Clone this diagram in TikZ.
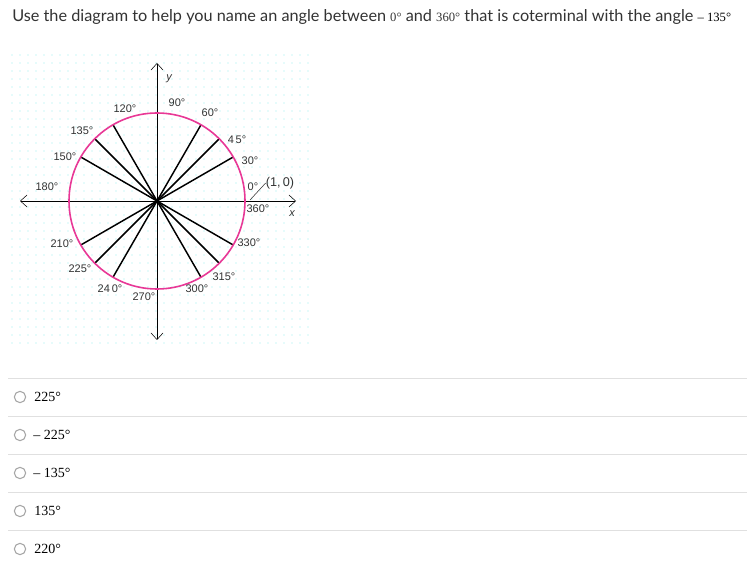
\documentclass[tikz,border=0pt]{standalone}
\usepackage{fontspec}
\setmainfont{Lato}
\newfontfamily\labelfont{Liberation Sans}
\newfontfamily\answerfont{Liberation Serif}
\usetikzlibrary{arrows.meta}
\definecolor{wheelpink}{RGB}{232,56,150}
\definecolor{textgray}{RGB}{51,51,51}
\definecolor{rulegray}{RGB}{224,224,224}
\definecolor{gridcyan}{RGB}{150,238,238}
\newcommand{\inlinedeg}[1]{{\answerfont\fontsize{9.5}{10}\selectfont #1}}

\begin{document}
\begin{tikzpicture}[x=0.75pt,y=-0.75pt,
    deglabel/.style={font=\labelfont\fontsize{8.25}{9}\selectfont, text=textgray, inner sep=0pt},
    answer/.style={font=\answerfont\fontsize{10.5}{12}\selectfont, anchor=west, inner sep=0pt},
    radio/.style={draw=gray!70, line width=0.8pt, circle, minimum size=8.5pt, inner sep=0pt},
    spoke/.style={line width=1.1pt, black},
    >={Straight Barb[length=5pt,width=9pt]}]
      \useasboundingbox (0,0) rectangle (747,574);
      \fill[white] (0,0) rectangle (747,574);
      % question
      \node[anchor=base west, inner sep=0pt, text=textgray, font=\fontsize{12.2}{14}\selectfont] (question) at (12,22)
        {Use the diagram to help you name an angle between \inlinedeg{0°} and \inlinedeg{360°} that is coterminal with the angle \inlinedeg{\color{black}– 135°}};
      % dotted backdrop
      \foreach \gx in {12,20,...,308} {
        \foreach \gy in {55,63,...,343} {
          \fill[gridcyan] (\gx,\gy) circle (0.55pt);
        }
      }
      % axes
      \coordinate (O) at (157,201);
      \coordinate (xl) at (20,201);
      \coordinate (xr) at (296,201);
      \coordinate (yt) at (157,63);
      \coordinate (yb) at (157,340);
      \draw[<->, thin] (xl) -- (xr);
      \draw[<->, thin] (yt) -- (yb);
      % spokes
      \draw[spoke] (O) -- +(-30:88);
      \draw[spoke] (O) -- +(-45:88);
      \draw[spoke] (O) -- +(-60:88);
      \draw[spoke] (O) -- +(-120:88);
      \draw[spoke] (O) -- +(-135:88);
      \draw[spoke] (O) -- +(-150:88);
      \draw[spoke] (O) -- +(-210:88);
      \draw[spoke] (O) -- +(-225:88);
      \draw[spoke] (O) -- +(-240:88);
      \draw[spoke] (O) -- +(-300:88);
      \draw[spoke] (O) -- +(-315:88);
      \draw[spoke] (O) -- +(-330:88);
      % unit circle
      \draw[wheelpink, line width=1.2pt] (O) circle[radius=88];
      % angle labels
      \node[deglabel, font=\labelfont\itshape\fontsize{8.25}{9}\selectfont] (ylab) at (169,79) {y};
      \node[deglabel, font=\labelfont\itshape\fontsize{8.25}{9}\selectfont] (xlab) at (292,214) {x};
      \node[deglabel] (l90) at (177,103) {90°};
      \node[deglabel] (l120) at (125,109) {120°};
      \node[deglabel] (l60) at (210,113) {60°};
      \node[deglabel] (l135) at (82,131) {135°};
      \node[deglabel] (l45) at (237,140) {4\,5°};
      \node[deglabel] (l150) at (65,157) {150°};
      \node[deglabel] (l30) at (250,161) {30°};
      \node[deglabel] (l180) at (47,187) {180°};
      \node[deglabel] (l0) at (253,187) {0°};
      \node[deglabel, font=\labelfont\fontsize{9.5}{10}\selectfont] (p10) at (280,183) {(1,\,0)};
      \node[deglabel] (l360) at (258,209) {360°};
      \node[deglabel] (l210) at (62,244) {210°};
      \node[deglabel] (l330) at (249,243) {330°};
      \node[deglabel] (l225) at (80,269) {225°};
      \node[deglabel] (l315) at (224,277) {315°};
      \node[deglabel] (l240) at (110,289) {24\,0°};
      \node[deglabel] (l300) at (197,289) {300°};
      \node[deglabel] (l270) at (144,297) {270°};
      % pointer to (1,0)
      \coordinate (one) at (250,200);
      \draw[thin, textgray] (p10.west) -- (one);
      % answer rows
      \draw[rulegray] (8,378) -- (747,378);
      \draw[rulegray] (8,416) -- (747,416);
      \draw[rulegray] (8,454) -- (747,454);
      \draw[rulegray] (8,492) -- (747,492);
      \draw[rulegray] (8,530) -- (747,530);
      \node[radio] (r1) at (20,397) {};
      \node[radio] (r2) at (20,435) {};
      \node[radio] (r3) at (20,473) {};
      \node[radio] (r4) at (20,511) {};
      \node[radio] (r5) at (20,549) {};
      \node[answer] (a1) at (34,397) {225°};
      \node[answer] (a2) at (33,435) {– 225°};
      \node[answer] (a3) at (33,473) {– 135°};
      \node[answer] (a4) at (34,511) {135°};
      \node[answer] (a5) at (34,549) {220°};
\end{tikzpicture}
\end{document}
